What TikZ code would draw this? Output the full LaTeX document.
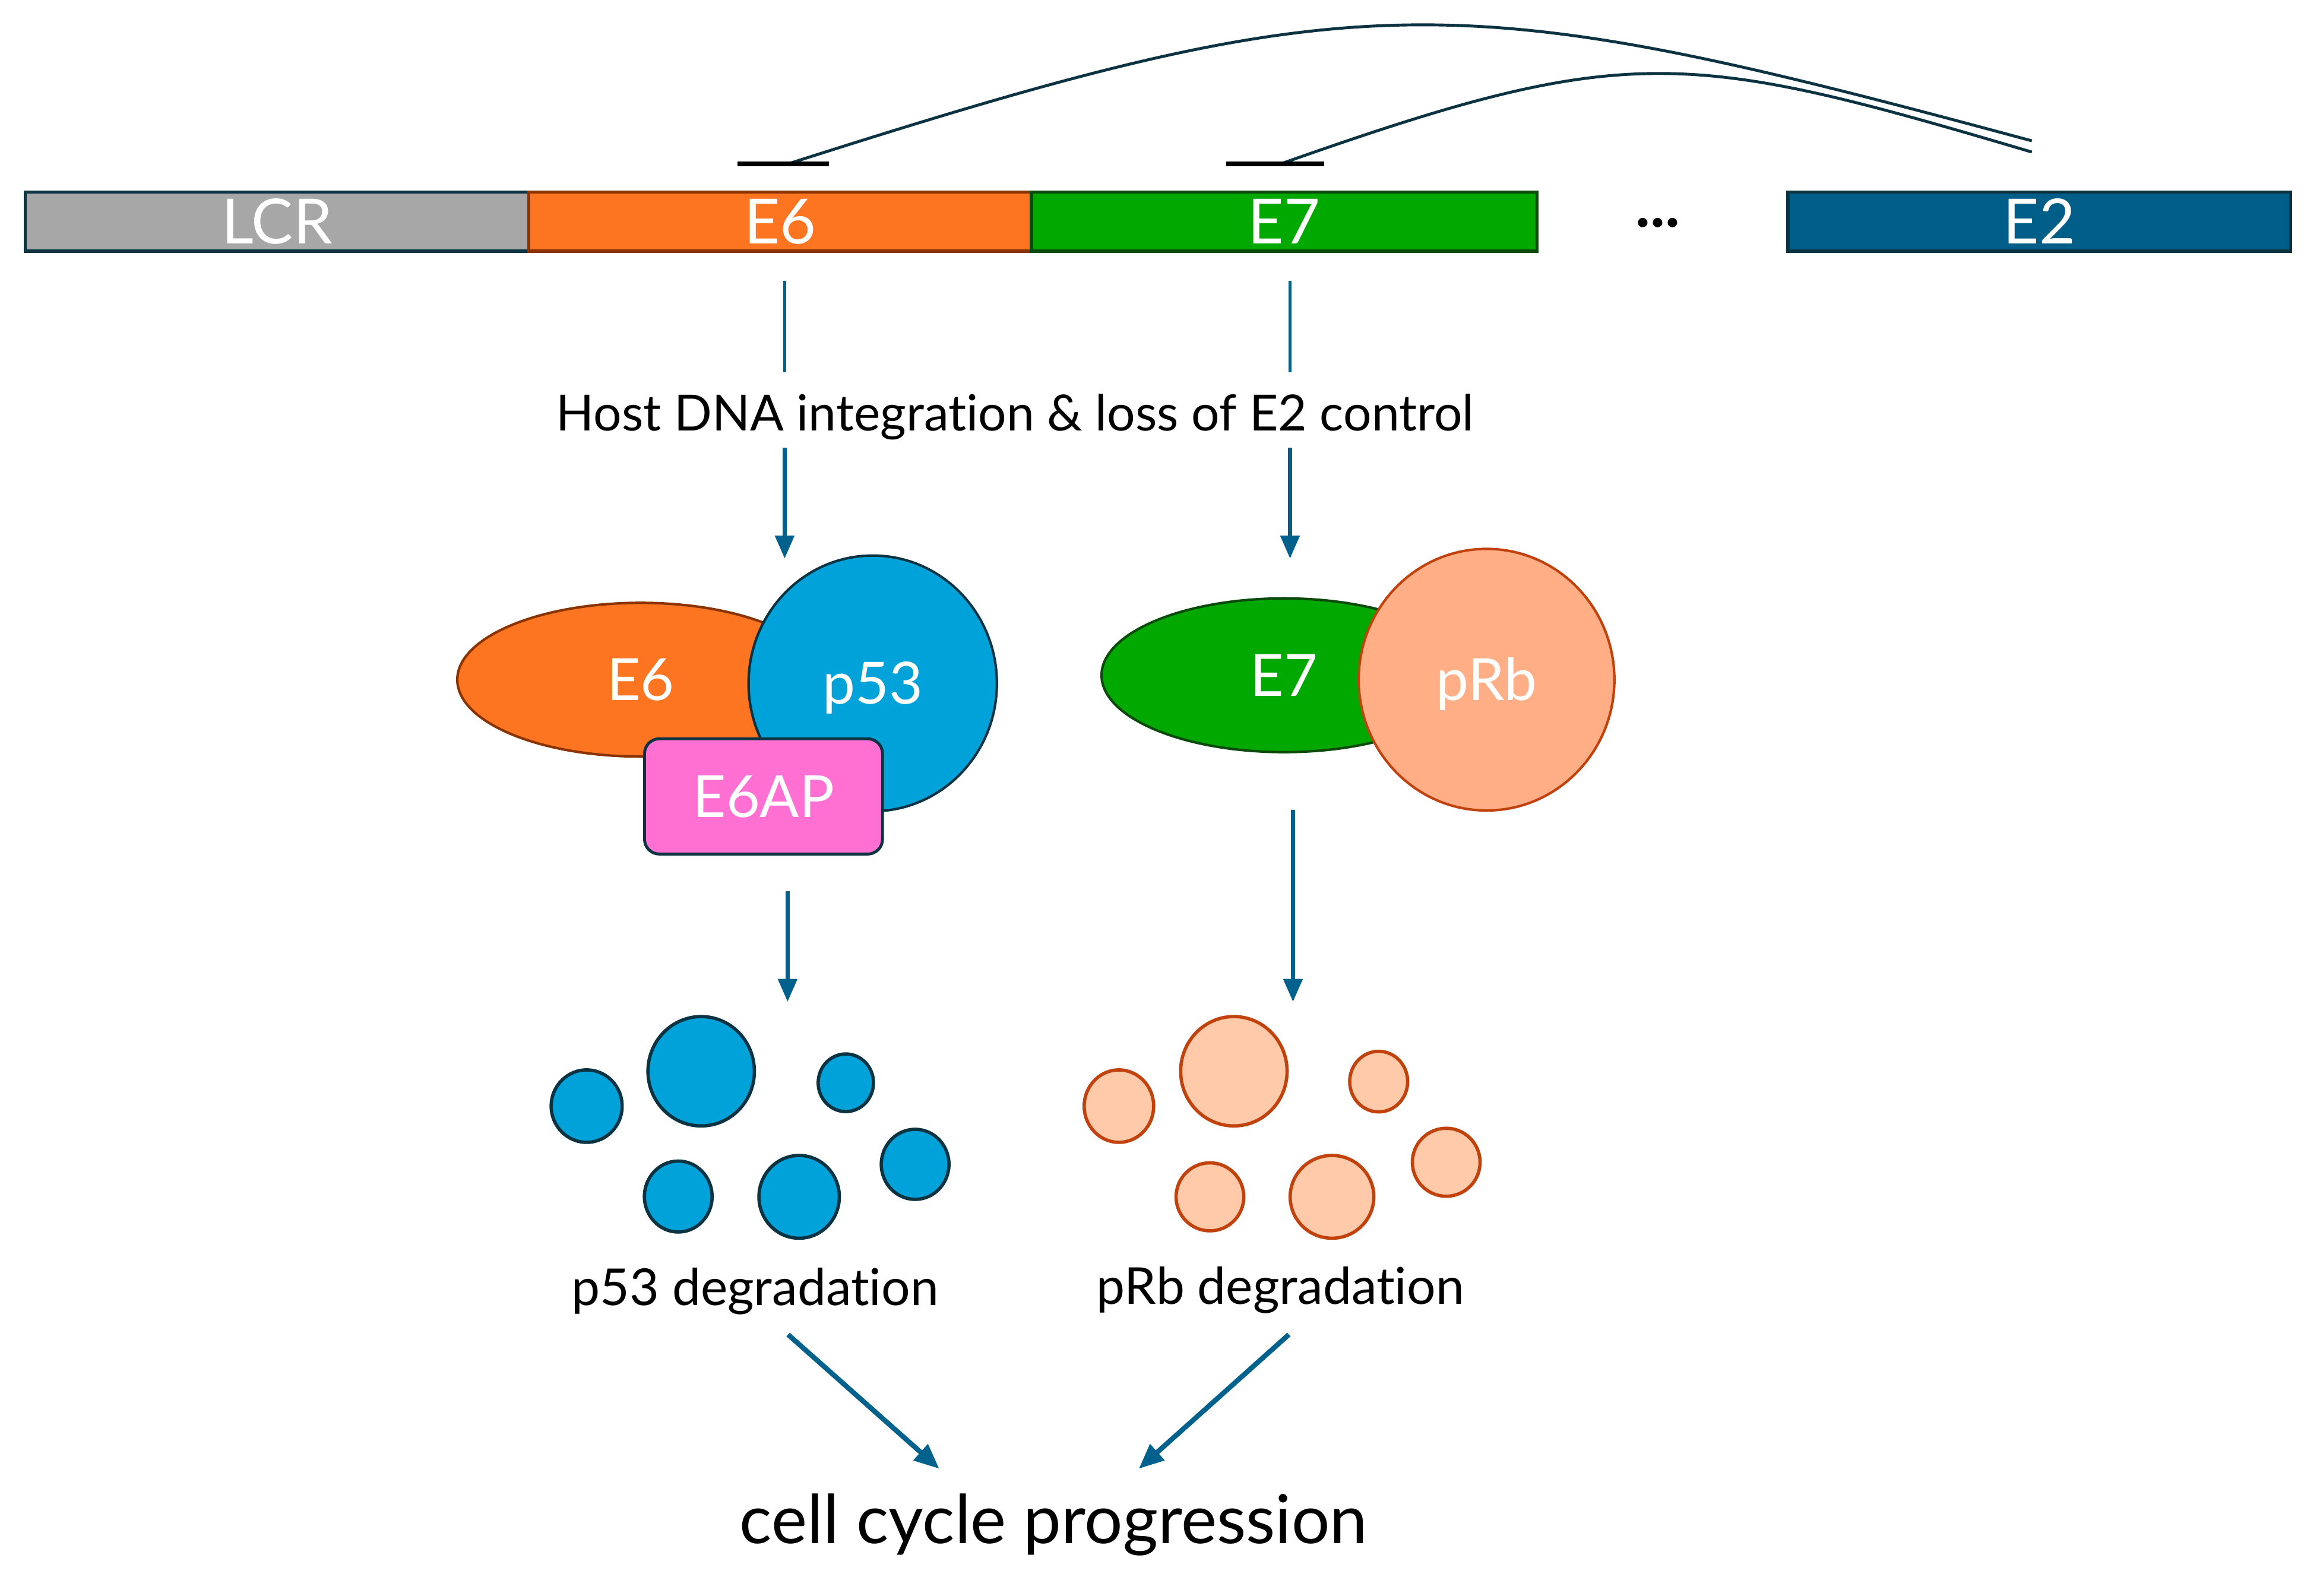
\documentclass[tikz,border=0pt]{standalone}
\usepackage{fontspec}
\setmainfont{Lato}[Ligatures=NoCommon]
\usetikzlibrary{arrows.meta,shapes.geometric}
\definecolor{lcrgray}{HTML}{A7A7A7}
\definecolor{eorange}{HTML}{FD7520}
\definecolor{egreen}{HTML}{00A800}
\definecolor{etwoblue}{HTML}{005E88}
\definecolor{pblue}{HTML}{00A2DA}
\definecolor{epink}{HTML}{FF70D2}
\definecolor{prbpeach}{HTML}{FFAE85}
\definecolor{fragpeach}{HTML}{FFCAAA}
\definecolor{prbedge}{HTML}{C2420E}
\definecolor{darkline}{HTML}{0B3342}
\definecolor{orangeedge}{HTML}{8A3300}
\definecolor{greenedge}{HTML}{0A4A0A}
\definecolor{arrowc}{HTML}{00628C}
\begin{document}
\begin{tikzpicture}[x=0.025cm,y=-0.025cm,
  seg/.style={draw, line width=1.5pt, minimum height=1.0cm, inner sep=0pt, text=white,
    font=\fontsize{30}{30}\selectfont, text height=21.5pt, text depth=0pt},
  blob/.style={ellipse, draw, line width=1.2pt, inner sep=0pt, text=white,
    font=\fontsize{28}{28}\selectfont, text height=20pt, text depth=0pt},
  frag/.style={ellipse, draw, line width=1.6pt, inner sep=0pt},
  bluefrag/.style={frag, fill=pblue, draw=darkline},
  peachfrag/.style={frag, fill=fragpeach, draw=prbedge},
  inhib/.style={draw=darkline, line width=1.4pt},
  tbar/.style={draw=black, line width=2.4pt},
  thinline/.style={draw=arrowc, line width=1.2pt},
  arr/.style={draw=arrowc, line width=1.9pt, -{Triangle[length=11pt,width=9pt]}},
  bigarr/.style={draw=arrowc, line width=2.4pt, -{Triangle[length=12pt,width=10pt]}},
  lbl/.style={font=\fontsize{24.5}{24.5}\selectfont, inner sep=0pt},
]
\useasboundingbox (0,0) rectangle (1568,1080);

% inhibition arcs
\coordinate (e2o) at (1375,95.3);
\coordinate (e2i) at (1375,102.9);
\coordinate (inh6) at (533,111);
\coordinate (inh7) at (866.4,111);
\coordinate (inh6l) at (499,111);
\coordinate (inh6r) at (561,111);
\coordinate (inh7l) at (830,111);
\coordinate (inh7r) at (896,111);
\draw[inhib] (inh6) .. controls (923,-13.8) and (985,-10) .. (e2o);
\draw[inhib] (inh7) .. controls (1101.4,28) and (1140,33.3) .. (e2i);
\draw[tbar] (inh6l) -- (inh6r);
\draw[tbar] (inh7l) -- (inh7r);

% genome bar
\node[seg, fill=lcrgray, draw=darkline, minimum width=8.525cm] (lcr) at (187.5,150) {LCR};
\node[seg, fill=eorange, draw=orangeedge, minimum width=8.5cm] (e6g) at (528,150) {E6};
\node[seg, fill=egreen, draw=greenedge, minimum width=8.55cm] (e7g) at (869,150) {E7};
\node[seg, fill=etwoblue, draw=darkline, minimum width=8.5cm] (e2g) at (1380,150) {E2};
\node[font=\fontsize{30}{30}\selectfont\bfseries, inner sep=0pt] (dots) at (1122,151) {...};

% integration text and arrows
\node[font=\fontsize{24}{24}\selectfont, inner sep=0pt] (host) at (687,282) {Host DNA integration \& loss of E2 control};
\coordinate (l6a) at (531,190);
\coordinate (l6b) at (531,252);
\coordinate (l7a) at (873,190);
\coordinate (l7b) at (873,252);
\coordinate (a6a) at (531,303);
\coordinate (a6b) at (531,378);
\coordinate (a7a) at (873,303);
\coordinate (a7b) at (873,378);
\draw[thinline] (l6a) -- (l6b);
\draw[thinline] (l7a) -- (l7b);
\draw[arr] (a6a) -- (a6b);
\draw[arr] (a7a) -- (a7b);

% E6 complex
\node[blob, fill=eorange, draw=orangeedge, minimum width=6.2cm, minimum height=2.6cm] (e6) at (433.5,460) {E6};
\node[blob, fill=pblue, draw=darkline, minimum width=4.2cm, minimum height=4.325cm] (p53) at (590.6,462.5) {p53};
\node[draw=darkline, fill=epink, line width=1.4pt, rounded corners=0.25cm, minimum width=4.025cm, minimum height=1.95cm, inner sep=0pt, text=white, font=\fontsize{28}{28}\selectfont, text height=20pt, text depth=0pt] (e6ap) at (516.7,539) {E6AP};

% E7 complex
\node[blob, fill=egreen, draw=greenedge, minimum width=6.175cm, minimum height=2.6cm] (e7) at (869,457) {E7};
\node[blob, fill=prbpeach, draw=prbedge, minimum width=4.325cm, minimum height=4.425cm] (prb) at (1006,460) {pRb};

% arrows to degradation
\coordinate (d6a) at (533,603);
\coordinate (d6b) at (533,678);
\coordinate (d7a) at (875,548);
\coordinate (d7b) at (875,678);
\draw[arr] (d6a) -- (d6b);
\draw[arr] (d7a) -- (d7b);

% p53 fragments
\node[bluefrag, minimum width=1.2cm, minimum height=1.225cm] (c1) at (397,748.6) {};
\node[bluefrag, minimum width=1.8cm, minimum height=1.85cm] (c2) at (474.5,725) {};
\node[bluefrag, minimum width=0.935cm, minimum height=0.975cm] (c3) at (572.4,732.8) {};
\node[bluefrag, minimum width=1.145cm, minimum height=1.2cm] (c4) at (459,809.8) {};
\node[bluefrag, minimum width=1.36cm, minimum height=1.4cm] (c5) at (540.8,810) {};
\node[bluefrag, minimum width=1.145cm, minimum height=1.185cm] (c6) at (619.3,788) {};

% pRb fragments
\node[peachfrag, minimum width=1.175cm, minimum height=1.225cm] (f1) at (757.2,748.6) {};
\node[peachfrag, minimum width=1.8cm, minimum height=1.85cm] (f2) at (835,725) {};
\node[peachfrag, minimum width=0.98cm, minimum height=1.025cm] (f3) at (933,732) {};
\node[peachfrag, minimum width=1.145cm, minimum height=1.15cm] (f4) at (818.8,810) {};
\node[peachfrag, minimum width=1.415cm, minimum height=1.4cm] (f5) at (901.4,810) {};
\node[peachfrag, minimum width=1.145cm, minimum height=1.15cm] (f6) at (978.7,786.6) {};

% degradation labels
\node[lbl] (p53deg) at (511,874) {p53 degradation};
\node[lbl] (prbdeg) at (866.5,873) {pRb degradation};

% final arrows
\node[font=\fontsize{32.5}{32.5}\selectfont, inner sep=0pt] (ccp) at (713,1032) {cell cycle progression};
\coordinate (g6a) at (533.3,903.2);
\coordinate (g6b) at (635.6,994);
\coordinate (g7a) at (872.2,903.2);
\coordinate (g7b) at (770.7,994);
\draw[bigarr] (g6a) -- (g6b);
\draw[bigarr] (g7a) -- (g7b);
\end{tikzpicture}
\end{document}
